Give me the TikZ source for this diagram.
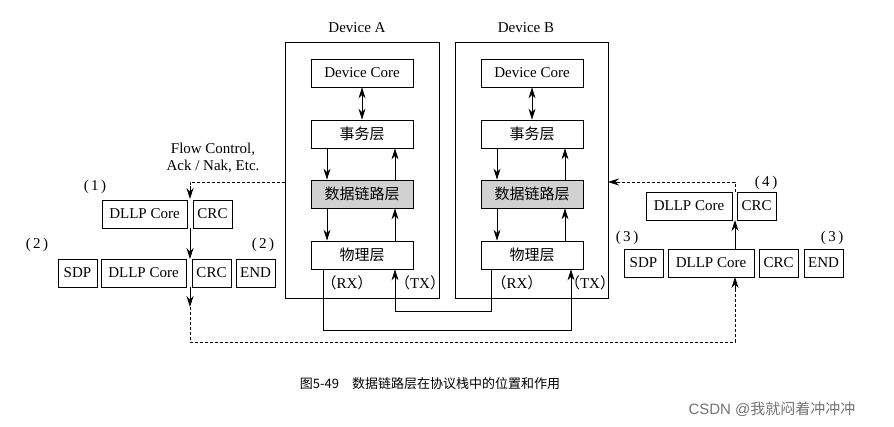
\documentclass[tikz,border=0pt]{standalone}
\usepackage{fontspec}
\setmainfont{Liberation Serif}
\newfontfamily\cjk{Noto Sans CJK SC}
\usetikzlibrary{arrows.meta}
\begin{document}
\begin{tikzpicture}[x=1pt,y=-1pt,
  txt/.style={font=\rmfamily\fontsize{15}{17}\selectfont},
  box/.style={draw,thick,inner sep=0pt,txt,minimum height=28pt},
  lay/.style={box,minimum width=102pt,minimum height=28pt},
  arr/.style={thick,-{Stealth[length=11pt,width=7pt]}},
  dsh/.style={thick,dashed,dash pattern=on 3pt off 2pt}]
\useasboundingbox (0,0) rectangle (894,427);
% device frames
\draw[thick] (285,42) rectangle (439,298);
\draw[thick] (455,42) rectangle (608,298);
\node[txt] (la) at (357,28) {Device A};
\node[txt] (lb) at (526,28) {Device B};
\foreach \d/\x in {A/362,B/532}{
  \node[lay] (core\d) at (\x,73) {Device Core};
  \node[lay] (tl\d) at (\x,134) {\cjk 事务层};
  \node[lay,fill=black!18] (dl\d) at (\x,194) {\cjk 数据链路层};
  \node[lay] (ph\d) at (\x,255) {\cjk 物理层};
  \draw[thick,{Stealth[length=11pt,width=7pt]}-{Stealth[length=11pt,width=7pt]}] (core\d) -- (tl\d);
  \draw[arr] ([xshift=-35pt]tl\d.south) -- ([xshift=-35pt]dl\d.north);
  \draw[arr] ([xshift=33pt]dl\d.north) -- ([xshift=33pt]tl\d.south);
  \draw[arr] ([xshift=-35pt]dl\d.south) -- ([xshift=-35pt]ph\d.north);
  \draw[arr] ([xshift=33pt]ph\d.north) -- ([xshift=33pt]dl\d.south);
  \node[txt] at (\x-15,283) {{\cjk（}RX{\cjk）}};
  \node[txt] at (\x+58,283) {{\cjk（}TX{\cjk）}};
}
% links
\draw[arr] ([xshift=-39pt]phA.south) |- (571,330) -- ([xshift=39pt]phB.south);
\draw[arr] ([xshift=-41pt]phB.south) |- (395,311) -- ([xshift=33pt]phA.south);
% left packets
\node[txt,align=center] (fc) at (213,158) {Flow Control,\\Ack / Nak, Etc.};
\node[box,minimum width=85pt] (c1) at (144.5,214) {DLLP Core};
\node[box,minimum width=39pt] (r1) at (212.5,214) {CRC};
\node[box,minimum width=39pt] (s2) at (77.5,273) {SDP};
\node[box,minimum width=85pt] (c2) at (143.5,273) {DLLP Core};
\node[box,minimum width=39pt] (r2) at (211.5,273) {CRC};
\node[box,minimum width=39pt] (e2) at (255.5,273) {END};
\node[txt] at (95,187) {(\,1\,)};
\node[txt] at (37,245) {(\,2\,)};
\node[txt] at (263,245) {(\,2\,)};
\coordinate (fa) at (285,182);
\coordinate (p1) at (190,199);
\draw[dsh] (fa) -| (190,188);
\draw[arr] (190,186) -- (p1);
\draw[arr] (190,228) -- (190,259);
\draw[arr] (190,287) -- (190,307);
% right packets
\node[box,minimum width=39pt] (s3) at (643.5,263) {SDP};
\node[box,minimum width=86pt] (c3) at (711,263) {DLLP Core};
\node[box,minimum width=39pt] (r3) at (778.5,263) {CRC};
\node[box,minimum width=39pt] (e3) at (823.5,263) {END};
\node[box,minimum width=86pt] (c4) at (689,206) {DLLP Core};
\node[box,minimum width=39pt] (r4) at (756.5,206) {CRC};
\node[txt] at (627,238) {(\,3\,)};
\node[txt] at (832,238) {(\,3\,)};
\node[txt] at (766,183) {(\,4\,)};
\draw[dsh] (190,307) |- (735,342) -- (735,290);
\draw[arr] (735,292) -- (735,277);
\draw[arr] (735,249) -- (735,220);
\draw[dsh] (735,192) |- (620,182);
\draw[arr] (620,182) -- (608,182);
% caption
\node[font=\cjk\fontsize{13}{15}\selectfont] (cap) at (430,384) {图5-49\quad 数据链路层在协议栈中的位置和作用};
\node[font=\fontsize{15}{17}\selectfont,text=black!55] (wm) at (772,409) {\fontspec{Liberation Sans}CSDN @{\cjk 我就闷着冲冲冲}};
\end{tikzpicture}
\end{document}
